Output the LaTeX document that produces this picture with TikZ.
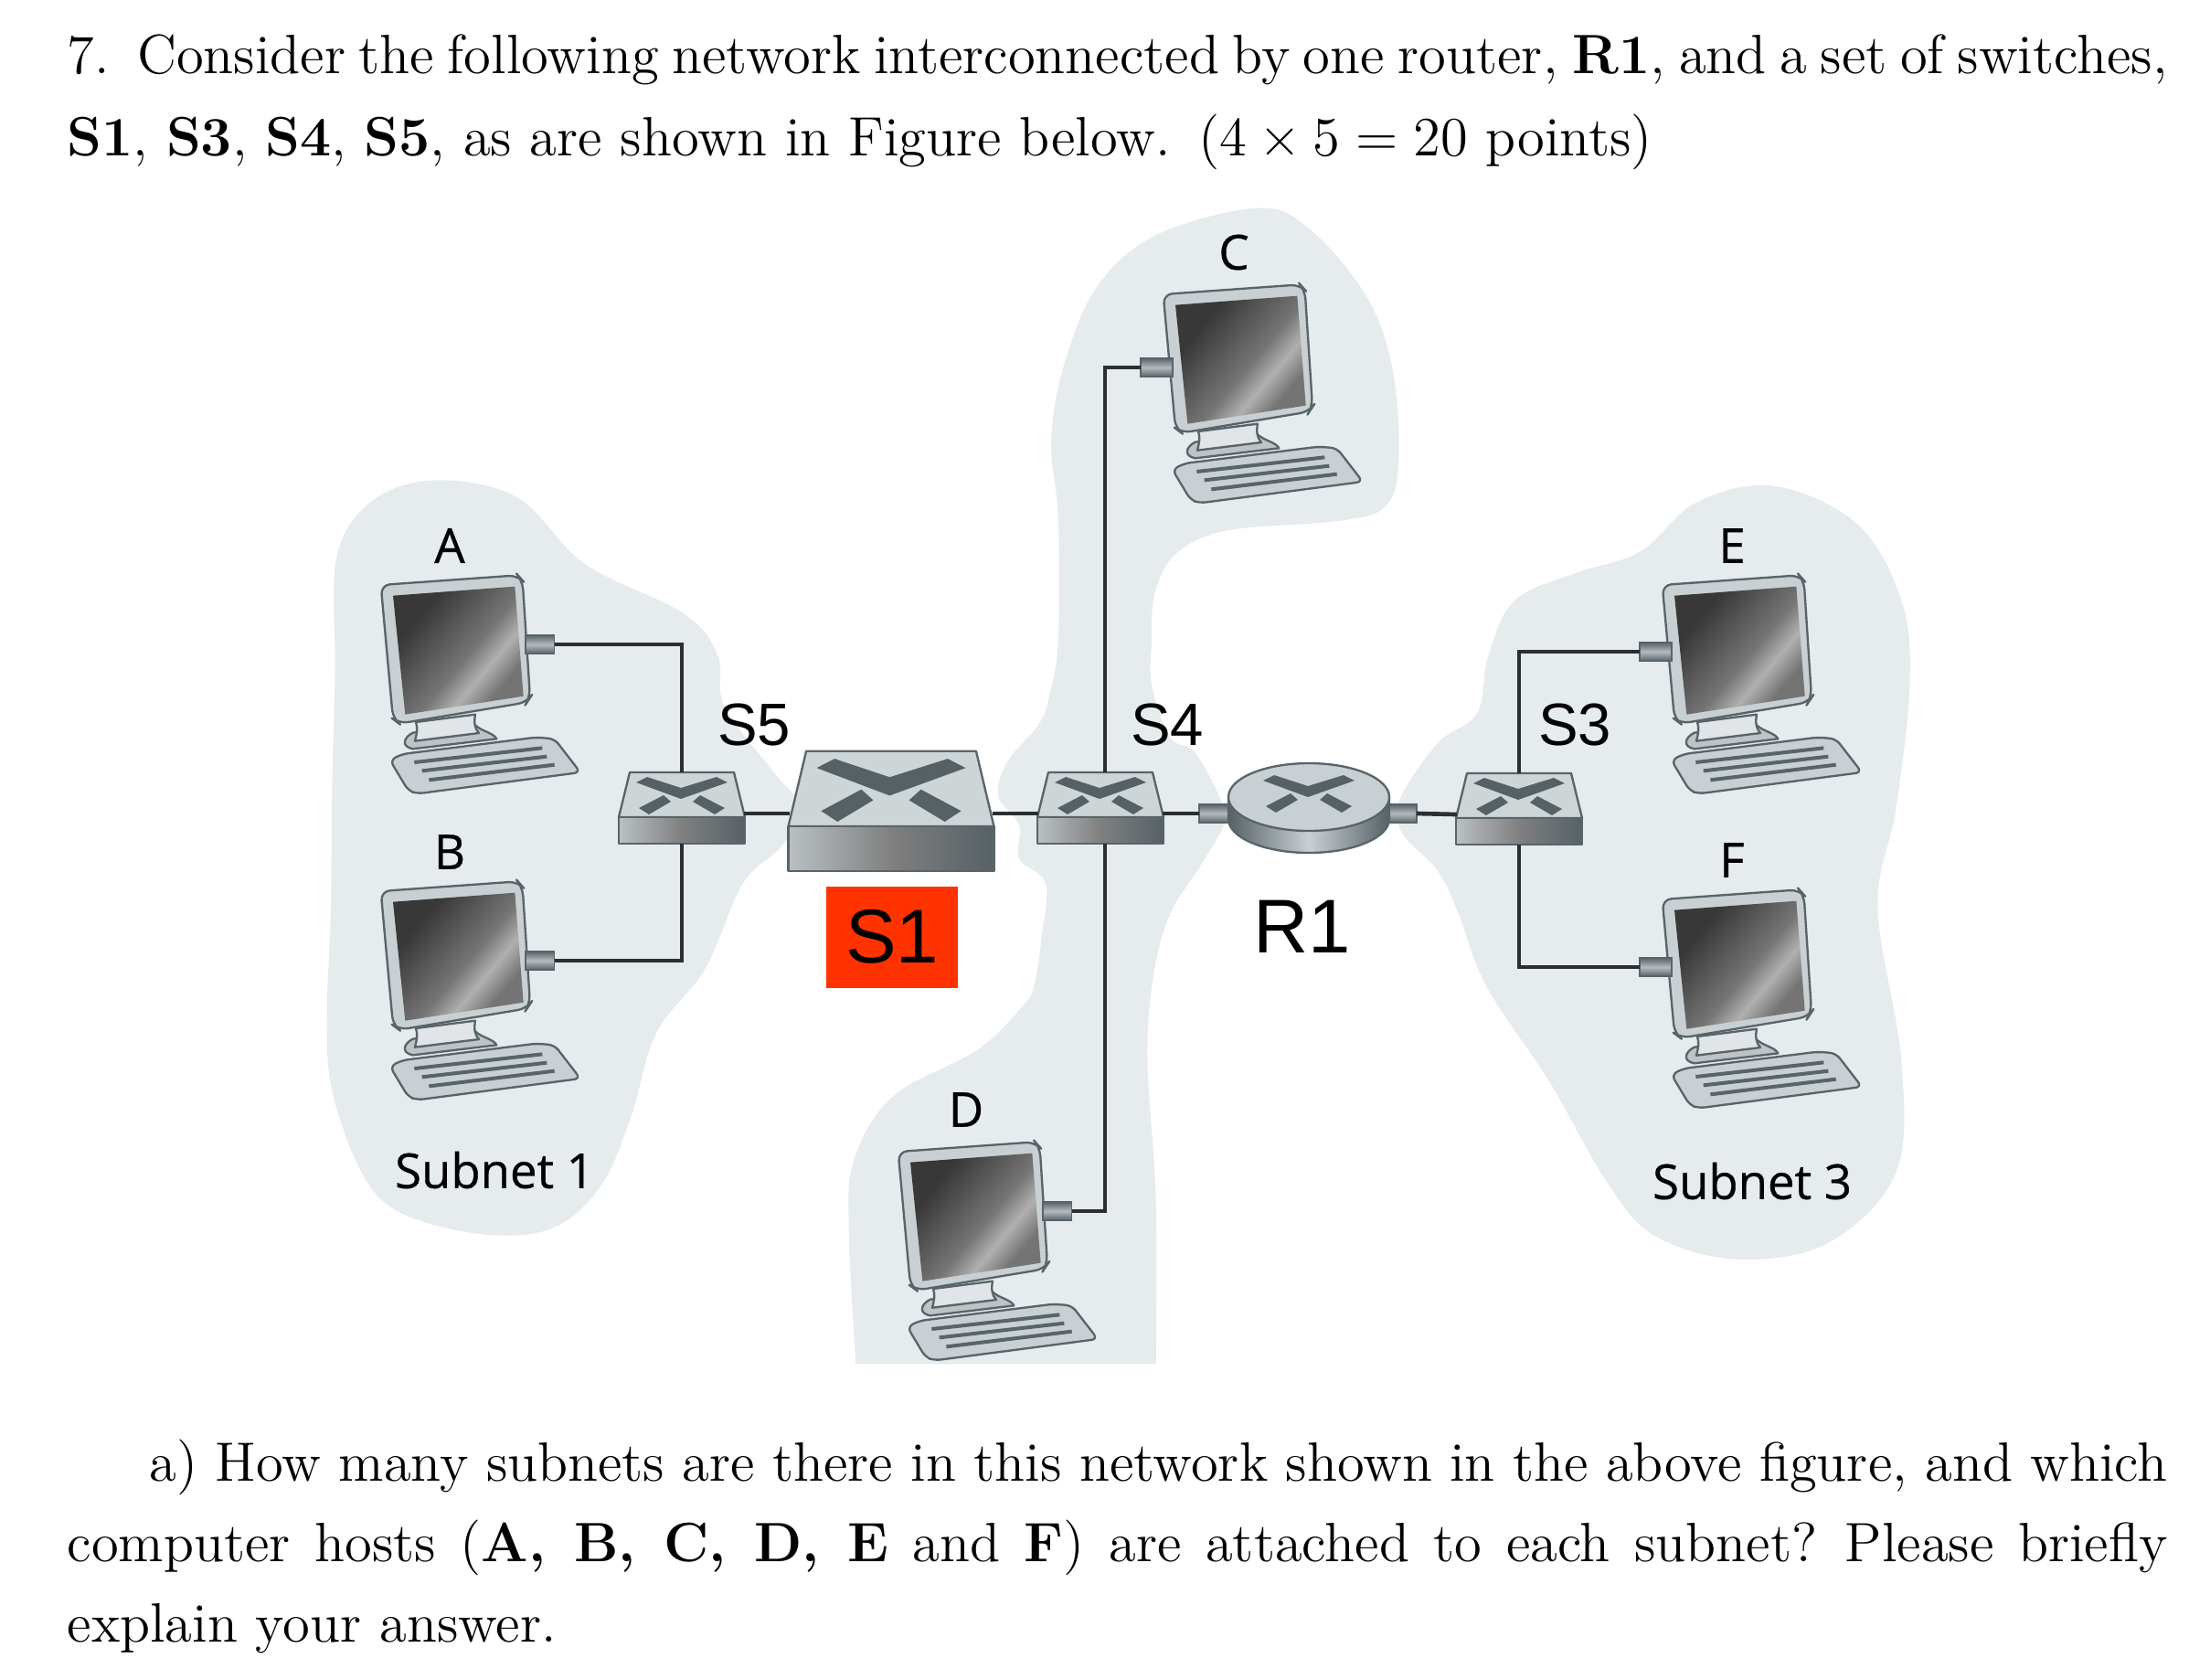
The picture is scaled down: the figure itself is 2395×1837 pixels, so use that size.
\documentclass[tikz,border=0pt]{standalone}
\usepackage{fontspec}
\usepackage{tikz}
\usetikzlibrary{positioning}
\newfontfamily\hostfont{Open Sans}[FakeBold=0.6]
\newfontfamily\devfont{Liberation Sans}
\newfontfamily\questfont{lmroman12-regular}[Extension=.otf,BoldFont=lmroman12-bold]
\definecolor{subnetgray}{HTML}{E6EBED}
\definecolor{wiregray}{HTML}{2B2F33}
\definecolor{linegray}{HTML}{59646A}
\definecolor{bezelgray}{HTML}{C9D0D3}
\definecolor{crossgray}{HTML}{566166}
\definecolor{labelred}{HTML}{FF3300}
\definecolor{scrdark}{HTML}{383838}
\definecolor{scrmid}{HTML}{757575}
\definecolor{scrlight}{HTML}{B0B0B0}
\definecolor{scrend}{HTML}{747474}
\pgfdeclarehorizontalshading{screenshade}{100bp}{color(0bp)=(scrdark);color(30bp)=(scrdark);color(54bp)=(scrmid);color(63bp)=(scrlight);color(72bp)=(scrend);color(100bp)=(scrmid)}
\newcommand{\drawcross}{
  \fill[crossgray] (-50,-38) -- (-38,-44) -- (-1,-32) -- (38,-44) -- (50,-38) -- (-1,-20) -- cycle;
  \fill[crossgray] (-47,-10) -- (-20,-24) -- (-12,-17) -- (-36,-3) -- cycle;
  \fill[crossgray] (12,-17) -- (20,-24) -- (47,-10) -- (36,-3) -- cycle;
}
\newcommand{\drawhost}{
  \filldraw[devline,fill=bezelgray!85!gray] (215,725) .. controls (185,740) and (175,770) .. (215,778) -- (490,745) .. controls (480,725) and (440,720) .. (420,700) -- cycle;
  \filldraw[devline,fill=bezelgray!55!white] (225,690) .. controls (232,710) and (228,730) .. (222,752) -- (432,726) .. controls (418,712) and (415,690) .. (420,665) -- cycle;
  \filldraw[devline,fill=bezelgray,rounded corners=2pt] (140,815) -- (180,795) -- (620,740) -- (680,745) -- (765,855) -- (230,925) -- (200,915) -- cycle;
  \draw[keyline] (220,822) -- (640,775);
  \draw[keyline] (245,850) -- (655,803);
  \draw[keyline] (268,880) -- (680,830);
  \filldraw[devline,fill=bezelgray,rounded corners=3pt] (110,240) -- (560,208) -- (575,225) -- (600,610) -- (590,625) -- (170,695) -- (150,680) -- cycle;
  \shade[shading=screenshade,shading angle=-40] (150,275) -- (550,245) -- (578,605) -- (190,665) -- cycle;
}
\tikzset{
  subnet/.style={fill=subnetgray},
  wire/.style={line width=1.4pt,draw=wiregray},
  devline/.style={line width=.7pt,draw=linegray,line join=round},
  keyline/.style={line width=1.2pt,draw=linegray},
  portpart/.style={top color=linegray,bottom color=linegray,middle color=bezelgray!90!black,draw=linegray,line width=.4pt},
  hostlabel/.style={font=\hostfont\fontsize{15.8}{18}\selectfont,inner sep=0pt},
  devlabel/.style={font=\devfont\fontsize{19.6}{22}\selectfont,inner sep=0pt},
  biglabel/.style={font=\devfont\fontsize{25}{28}\selectfont,inner sep=0pt},
  question/.style={anchor=north west,inner sep=0pt,text width=689.4pt,align=justify,font=\questfont\fontsize{18.2}{27}\selectfont},
  pics/hostright/.style={code={
    \begin{scope}[scale=1/3]
      \drawhost
      \draw[portpart] (585,#1-30) rectangle (680,#1+30);
      \coordinate (-port) at (680,#1);
    \end{scope}
  }},
  pics/hostleft/.style={code={
    \begin{scope}[scale=1/3]
      \drawhost
      \draw[portpart] (36,#1-30) rectangle (141,#1+30);
      \coordinate (-port) at (36,#1);
    \end{scope}
  }},
  pics/switchbox/.style={code={
    \filldraw[devline,fill=bezelgray!90!white] (-57,-49) -- (57,-49) -- (69,0) -- (-69,0) -- cycle;
    \shade[left color=bezelgray!80!gray,right color=crossgray,middle color=gray] (-69,0) rectangle (69,29);
    \draw[devline] (-69,0) rectangle (69,29);
    \drawcross
    \coordinate (-top) at (0,-49);
    \coordinate (-bot) at (0,29);
    \coordinate (-left) at (-68,-4);
    \coordinate (-right) at (68,-4);
  }},
  pics/routerbox/.style={code={
    \draw[portpart] (-120,8) rectangle (-80,28);
    \draw[portpart] (80,8) rectangle (118,28);
    \shade[left color=crossgray,right color=crossgray,middle color=bezelgray] (-88,0) -- (-88,24) arc[start angle=180,end angle=0,x radius=88,y radius=37] -- (88,0) -- cycle;
    \draw[devline] (-88,0) -- (-88,24) arc[start angle=180,end angle=0,x radius=88,y radius=37] -- (88,0);
    \filldraw[devline,fill=bezelgray] (0,0) ellipse[x radius=88,y radius=37];
    \begin{scope}[shift={(0,20)}]
      \drawcross
    \end{scope}
    \coordinate (-left) at (-120,18);
    \coordinate (-right) at (118,18);
  }}
}
\begin{document}
\begin{tikzpicture}[x=.3pt,y=-.3pt]
  \useasboundingbox (0,0) rectangle (2395,1837);
  % shaded subnets
  \begin{scope}[scale=1.5274]
    \fill[subnet] plot[smooth cycle,tension=.6] coordinates {(310,344) (370,356) (419,404) (489,439) (514,469) (519,506) (555,554) (575,580) (559,607) (532,633) (505,694) (470,740) (452,800) (430,850) (395,880) (345,884) (290,870) (262,845) (240,790) (234,740) (237,650) (238,560) (240,480) (241,400) (265,360)};
    \fill[subnet] plot[smooth,tension=.6] coordinates {(828,977) (828,860) (822,760) (826,700) (838,655) (860,620) (877,590) (875,574) (856,539) (838,528) (825,490) (825,458) (827,426) (842,397) (879,380) (960,373) (993,362) (1002,327) (997,262) (978,211) (938,164) (901,149) (829,168) (786,205) (762,262) (753,316) (758,371) (758,458) (752,497) (744,519) (722,545) (715,570) (730,591) (730,615) (749,633) (746,672) (741,705) (733,720) (700,752) (640,785) (612,830) (608,880) (613,977)} -- cycle;
    \fill[subnet] plot[smooth cycle,tension=.6] coordinates {(1003,572) (1030,532) (1058,511) (1066,470) (1085,430) (1130,410) (1175,395) (1215,360) (1270,348) (1330,375) (1362,430) (1368,490) (1358,580) (1345,650) (1362,760) (1358,840) (1310,890) (1245,902) (1185,885) (1150,845) (1110,775) (1065,707) (1045,655) (1030,624) (1004,596)};
  \end{scope}
  % hosts
  \pic (A) at (380,560) {hostright=435};
  \pic (B) at (380,895) {hostright=468};
  \pic (C) at (1236,242) {hostleft=480};
  \pic (D) at (946,1180) {hostright=435};
  \pic (E) at (1782,560) {hostleft=459};
  \pic (F) at (1782,904) {hostleft=462};
  % switches and router
  \pic (S5) at (746,894) {switchbox};
  \pic (S1) [xscale=1.63,yscale=1.68] at (975,904) {switchbox};
  \pic (S4) at (1204,894) {switchbox};
  \pic (R1) at (1432,872) {routerbox};
  \pic (S3) at (1662,895) {switchbox};
  % links
  \draw[wire] (A-port) -| (S5-top);
  \draw[wire] (B-port) -| (S5-bot);
  \draw[wire] (C-port) -| ([xshift=1.5pt]S4-top);
  \draw[wire] (D-port) -| ([xshift=1.5pt]S4-bot);
  \draw[wire] (E-port) -| (S3-top);
  \draw[wire] (F-port) -| (S3-bot);
  \draw[wire] (S5-right) -- (S5-right -| S1-left);
  \draw[wire] (S4-left -| S1-right) -- (S4-left);
  \draw[wire] (S4-right) -- (R1-left);
  \draw[wire] (R1-right) -- (S3-left);
  % labels
  \node[hostlabel] (labA) at (492,597) {A};
  \node[hostlabel] (labB) at (492,932) {B};
  \node[hostlabel] (labC) at (1350,276) {C};
  \node[hostlabel] (labD) at (1057,1214) {D};
  \node[hostlabel] (labE) at (1895,597) {E};
  \node[hostlabel] (labF) at (1895,941) {F};
  \node[hostlabel] (sub1) at (541,1280) {Subnet 1};
  \node[hostlabel] (sub3) at (1917,1292) {Subnet 3};
  \node[devlabel] (labS5) at (825,793) {S5};
  \node[devlabel] (labS4) at (1277,793) {S4};
  \node[devlabel] (labS3) at (1723,793) {S3};
  \node[biglabel] (labR1) at (1425,1014) {R1};
  \node[biglabel,fill=labelred,minimum width=43.2pt,minimum height=33.3pt] (labS1) at (976,1025) {S1};
  % question text
  \node[question] (qtop) at (73,37) {7.\enspace Consider the following network interconnected by one router, \textbf{R1}, and a set of switches, \textbf{S1}, \textbf{S3}, \textbf{S4}, \textbf{S5}, as are shown in Figure below.\enspace (4\hspace{.22em}×\hspace{.22em}5\hspace{.28em}=\hspace{.28em}20 points)};
  \node[question,font=\questfont\fontsize{18.2}{26.5}\selectfont] (qbot) at (73,1574) {\hspace*{27pt}a) How many subnets are there in this network shown in the above figure, and which computer hosts (\textbf{A, B, C, D, E} and \textbf{F}) are attached to each subnet?\enspace Please briefly\linebreak explain your answer.};
\end{tikzpicture}
\end{document}
